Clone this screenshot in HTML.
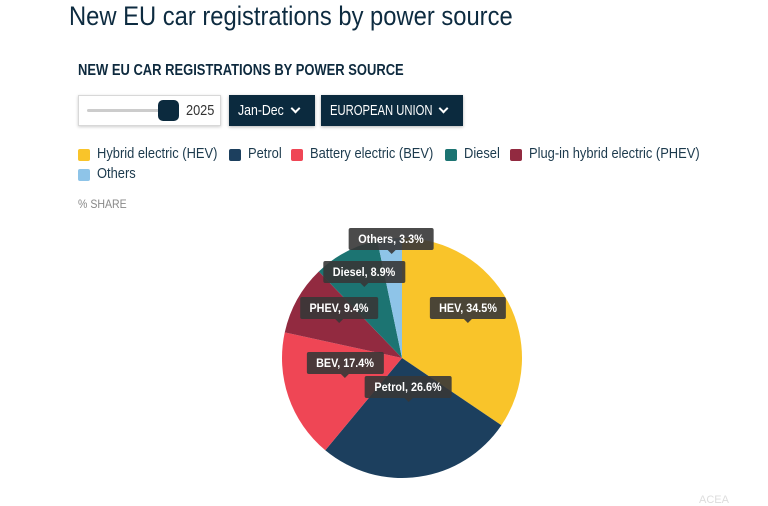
<!DOCTYPE html>
<html><head><meta charset="utf-8">
<style>
body{margin:0;width:768px;height:503px;background:#fff;position:relative;overflow:hidden;font-family:"Liberation Sans",sans-serif;color:#0e2a3e}
.abs{position:absolute}
.sx{transform-origin:0 50%;white-space:nowrap}
#title{left:69px;top:1px;font-size:27px;color:#0d2b40;transform:scaleX(0.88)}
#sub{left:78px;top:62px;font-size:16px;font-weight:bold;transform:scaleX(0.81)}
#slider{left:78px;top:95px;width:143px;height:31px;border:1px solid #d8d8d8;box-shadow:0 1px 3px rgba(0,0,0,.2);box-sizing:border-box;background:#fff}
.btn{background:#0b2a3e;color:#fff;height:31px;box-sizing:border-box;box-shadow:0 1px 3px rgba(0,0,0,.3)}
.btn span.t{position:absolute;left:9px;top:7px;font-size:15px;transform:scaleX(0.82)}
.chev{position:absolute;top:10px;width:5px;height:5px;border-right:2px solid #fff;border-bottom:2px solid #fff;transform:rotate(45deg)}
.leg{font-size:15px;color:#1c3a4d}
.leg i{position:absolute;left:0;top:4px;width:12px;height:12px;border-radius:2px}
.leg span{position:absolute;left:19px;top:0;transform:scaleX(0.86)}
.tip{position:absolute;background:rgba(55,55,55,.9);color:#fff;font-size:12px;font-weight:bold;padding:4px 6px;border-radius:2px;white-space:nowrap;transform:translate(-50%,-100%)}
.tip span{display:inline-block;transform:scaleX(0.9)}
.tip:after{content:"";position:absolute;left:50%;bottom:-4px;margin-left:-4px;border:4px solid transparent;border-bottom:0;border-top-color:rgba(55,55,55,.9)}
</style></head><body>
<div id="title" class="abs sx">New EU car registrations by power source</div>
<div id="sub" class="abs sx">NEW EU CAR REGISTRATIONS BY POWER SOURCE</div>
<div id="slider" class="abs">
  <div class="abs" style="left:8px;top:13px;width:80px;height:3px;background:#ccc;border-radius:2px"></div>
  <div class="abs" style="left:79px;top:4px;width:21px;height:21px;background:#0b2a3e;border-radius:5px"></div>
  <div class="abs sx" style="left:107px;top:6px;font-size:15px;color:#333;transform:scaleX(0.85)">2025</div>
</div>
<div class="abs btn" style="left:229px;top:95px;width:86px"><span class="t sx">Jan-Dec</span><div class="chev" style="left:63px"></div></div>
<div class="abs btn" style="left:321px;top:95px;width:142px"><span class="t sx" style="transform:scaleX(0.75)">EUROPEAN UNION</span><div class="chev" style="left:119px"></div></div>
<div class="abs leg" style="left:78px;top:145px"><i style="background:#f9c42a"></i><span class="sx">Hybrid electric (HEV)</span></div>
<div class="abs leg" style="left:229px;top:145px"><i style="background:#1c3f5e"></i><span class="sx">Petrol</span></div>
<div class="abs leg" style="left:291px;top:145px"><i style="background:#ef4655"></i><span class="sx">Battery electric (BEV)</span></div>
<div class="abs leg" style="left:445px;top:145px"><i style="background:#1c7472"></i><span class="sx">Diesel</span></div>
<div class="abs leg" style="left:510px;top:145px"><i style="background:#922a40"></i><span class="sx">Plug-in hybrid electric (PHEV)</span></div>
<div class="abs leg" style="left:78px;top:165px"><i style="background:#8ec4e8"></i><span class="sx">Others</span></div>
<div class="abs sx" style="left:78px;top:197px;font-size:12px;color:#888;transform:scaleX(0.88)">% SHARE</div>
<svg class="abs" id="pie" style="left:0;top:0" width="768" height="503"></svg>
<div id="tips"></div>
<div class="abs" style="left:699px;top:494px;font-size:11px;color:#ddd">ACEA</div>
<script>
const categories=["HEV","Petrol","BEV","PHEV","Diesel","Others"];
const values=[34.5,26.6,17.4,9.4,8.9,3.3];
const colors=["#f9c42a","#1c3f5e","#ef4655","#922a40","#1c7472","#8ec4e8"];
const labelFrac=[0.62,0.37,0.5,0.6,0.67,0.87];
const cx=402,cy=358,R=120;
const total=values.reduce((a,b)=>a+b,0);
const svg=document.getElementById('pie');
const tips=document.getElementById('tips');
function pt(a,r){return [cx+r*Math.sin(a),cy-r*Math.cos(a)];}
let acc=0;
values.forEach((v,i)=>{
  const a0=acc/total*2*Math.PI; acc+=v; const a1=acc/total*2*Math.PI;
  const p0=pt(a0,R),p1=pt(a1,R);
  const path=document.createElementNS('http://www.w3.org/2000/svg','path');
  path.setAttribute('d',`M${cx},${cy}L${p0[0]},${p0[1]}A${R},${R} 0 ${a1-a0>Math.PI?1:0} 1 ${p1[0]},${p1[1]}Z`);
  path.setAttribute('fill',colors[i]);
  
  
  svg.appendChild(path);
});
acc=0;
values.forEach((v,i)=>{
  const am=(acc+v/2)/total*2*Math.PI; acc+=v;
  const p=pt(am,R*labelFrac[i]);
  const d=document.createElement('div');
  d.className='tip';
  d.style.left=p[0]+'px';d.style.top=(p[1]-4)+'px';
  const s=document.createElement('span');
  s.textContent=categories[i]+', '+v.toFixed(1)+'%';
  d.appendChild(s);
  
  
  tips.appendChild(d);
});
</script>
</body></html>
